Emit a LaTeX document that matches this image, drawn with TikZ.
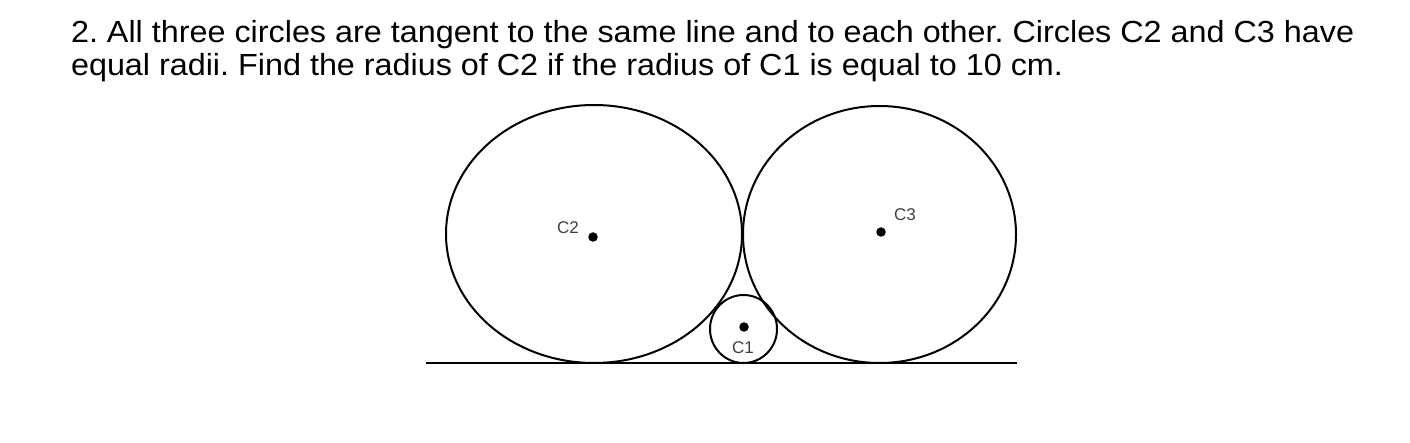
\documentclass[tikz,border=0pt]{standalone}
\usepackage{fontspec}
\setmainfont{Liberation Sans}
\frenchspacing

\begin{document}
\begin{tikzpicture}[x=1pt,y=1pt,line width=2pt,
    dot/.style={fill,circle,inner sep=0pt,minimum size=9.5pt},
    tag/.style={text=black!75,font=\fontsize{17}{17}\selectfont,inner sep=0pt},
    prose/.style={anchor=base west,inner sep=0pt,xscale=1.06,font=\fontsize{30.5}{34}\selectfont}]
    \useasboundingbox (0,0) rectangle (1410,442);
    % problem text
    \node[prose] (line1) at (70,399)
      {2. All three circles are tangent to the same line and to each other. Circles C2 and C3 have};
    \node[prose] (line2) at (70,366)
      {equal radii. Find the radius of C2 if the radius of C1 is equal to 10 cm.};
    % figure
    \coordinate (c2) at (594,208);
    \coordinate (c3) at (879.5,207.5);
    \coordinate (c1) at (743.5,113);
    \draw (c2) ellipse [x radius=148,y radius=129];
    \draw (c3) ellipse [x radius=136.5,y radius=128.5];
    \draw (c1) ellipse [x radius=33.5,y radius=34];
    \coordinate (gl) at (426,79.5);
    \coordinate (gr) at (1017,79.5);
    \draw (gl) -- (gr);
    \node[dot] (d2) at (593,205) {};
    \node[dot] (d3) at (881,210) {};
    \node[dot] (d1) at (744,115) {};
    \node[tag] (t2) at (568,214) {C2};
    \node[tag] (t3) at (905,227) {C3};
    \node[tag] (t1) at (743,94) {C1};
\end{tikzpicture}
\end{document}
